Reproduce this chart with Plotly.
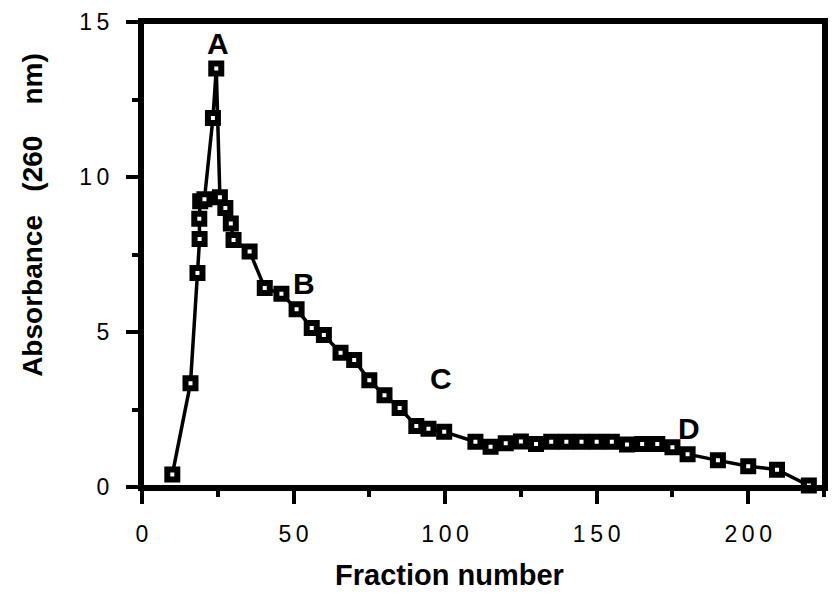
import plotly.graph_objects as go

# Data
fraction = [10, 16, 18.3, 19, 18.9, 19.2, 20.6, 23.4, 24.5, 25.7, 27.5, 29.3, 30.2,
            35.5, 40.5, 46, 51, 56, 60, 65.5, 70, 75, 80, 85, 90.5, 94.5, 99.7,
            110, 115, 120, 125, 130, 135, 140, 145, 150, 155, 160, 165, 170, 175,
            180, 190, 200, 209.5, 220]
absorbance = [0.4, 3.35, 6.9, 8.0, 8.65, 9.22, 9.28, 11.9, 13.5, 9.35, 9.0, 8.5, 7.97,
              7.6, 6.42, 6.23, 5.73, 5.13, 4.9, 4.33, 4.1, 3.44, 2.96, 2.55, 1.97, 1.88, 1.78,
              1.46, 1.3, 1.41, 1.47, 1.39, 1.46, 1.46, 1.46, 1.46, 1.46, 1.37, 1.39, 1.39, 1.28,
              1.06, 0.86, 0.67, 0.56, 0.05]

peak_labels = ["A", "B", "C", "D"]
peak_x = [25.2, 53.4, 98.5, 180.5]
peak_y = [14.3, 6.58, 3.5, 1.88]

x_ticks = [0, 50, 100, 150, 200]
y_ticks = [0, 5, 10, 15]
x_title = "Fraction number"
y_title = "Absorbance\u00a0\u00a0\u00a0(260\u00a0\u00a0\u00a0\u00a0nm)"

TS = "\u2009"  # thin space to mimic the wide digit spacing


def spaced(v):
    return TS.join(str(v))


FONT = "Liberation Sans, Arial, sans-serif"

fig = go.Figure()
fig.add_trace(go.Scatter(
    x=fraction, y=absorbance, mode="lines+markers",
    line=dict(color="black", width=3.5),
    marker=dict(symbol="square", size=10, color="white",
                line=dict(color="black", width=6)),
    cliponaxis=False, showlegend=False,
))

for t, xv, yv in zip(peak_labels, peak_x, peak_y):
    fig.add_annotation(x=xv, y=yv, text=t, showarrow=False,
                       xanchor="center", yanchor="middle",
                       font=dict(family=FONT, size=30, color="black", weight="bold"))

fig.add_annotation(xref="paper", yref="paper", x=-0.160, y=0.585, text=y_title,
                   textangle=-90, showarrow=False, xanchor="center", yanchor="middle",
                   font=dict(family=FONT, size=28, color="black", weight="bold"))
fig.add_annotation(xref="paper", yref="paper", x=0.4504, y=-0.19, text=x_title,
                   showarrow=False, xanchor="center", yanchor="middle",
                   font=dict(family=FONT, size=29, color="black", weight="bold"))

# frame around the plot area
fig.add_shape(type="rect", xref="paper", yref="paper", x0=0, x1=1, y0=0, y1=1,
              line=dict(color="black", width=4), layer="above")

fig.update_xaxes(
    range=[0, 225], showgrid=False, zeroline=False,
    showline=True, linecolor="black", linewidth=4, mirror=True,
    ticks="outside", ticklen=13, tickwidth=3.5, tickcolor="black",
    tickvals=x_ticks, ticktext=[spaced(v) for v in x_ticks],
    tickfont=dict(family=FONT, size=23, color="black"),
    ticklabelstandoff=10,
    minor=dict(dtick=25, tick0=0, ticks="outside", ticklen=6, tickwidth=3.5,
               tickcolor="black", showgrid=False),
)
fig.update_yaxes(
    range=[0, 15], showgrid=False, zeroline=False,
    showline=True, linecolor="black", linewidth=4, mirror=True,
    ticks="outside", ticklen=12, tickwidth=3.5, tickcolor="black",
    tickvals=y_ticks, ticktext=[spaced(v) for v in y_ticks],
    tickfont=dict(family=FONT, size=23, color="black"),
    ticklabelstandoff=12,
    minor=dict(dtick=2.5, tick0=0, ticks="outside", ticklen=6, tickwidth=3.5,
               tickcolor="black", showgrid=False),
)
fig.update_layout(
    width=837, height=600,
    margin=dict(l=142, r=9, t=15, b=113),
    paper_bgcolor="white", plot_bgcolor="white",
)
fig.write_html("out.html")
